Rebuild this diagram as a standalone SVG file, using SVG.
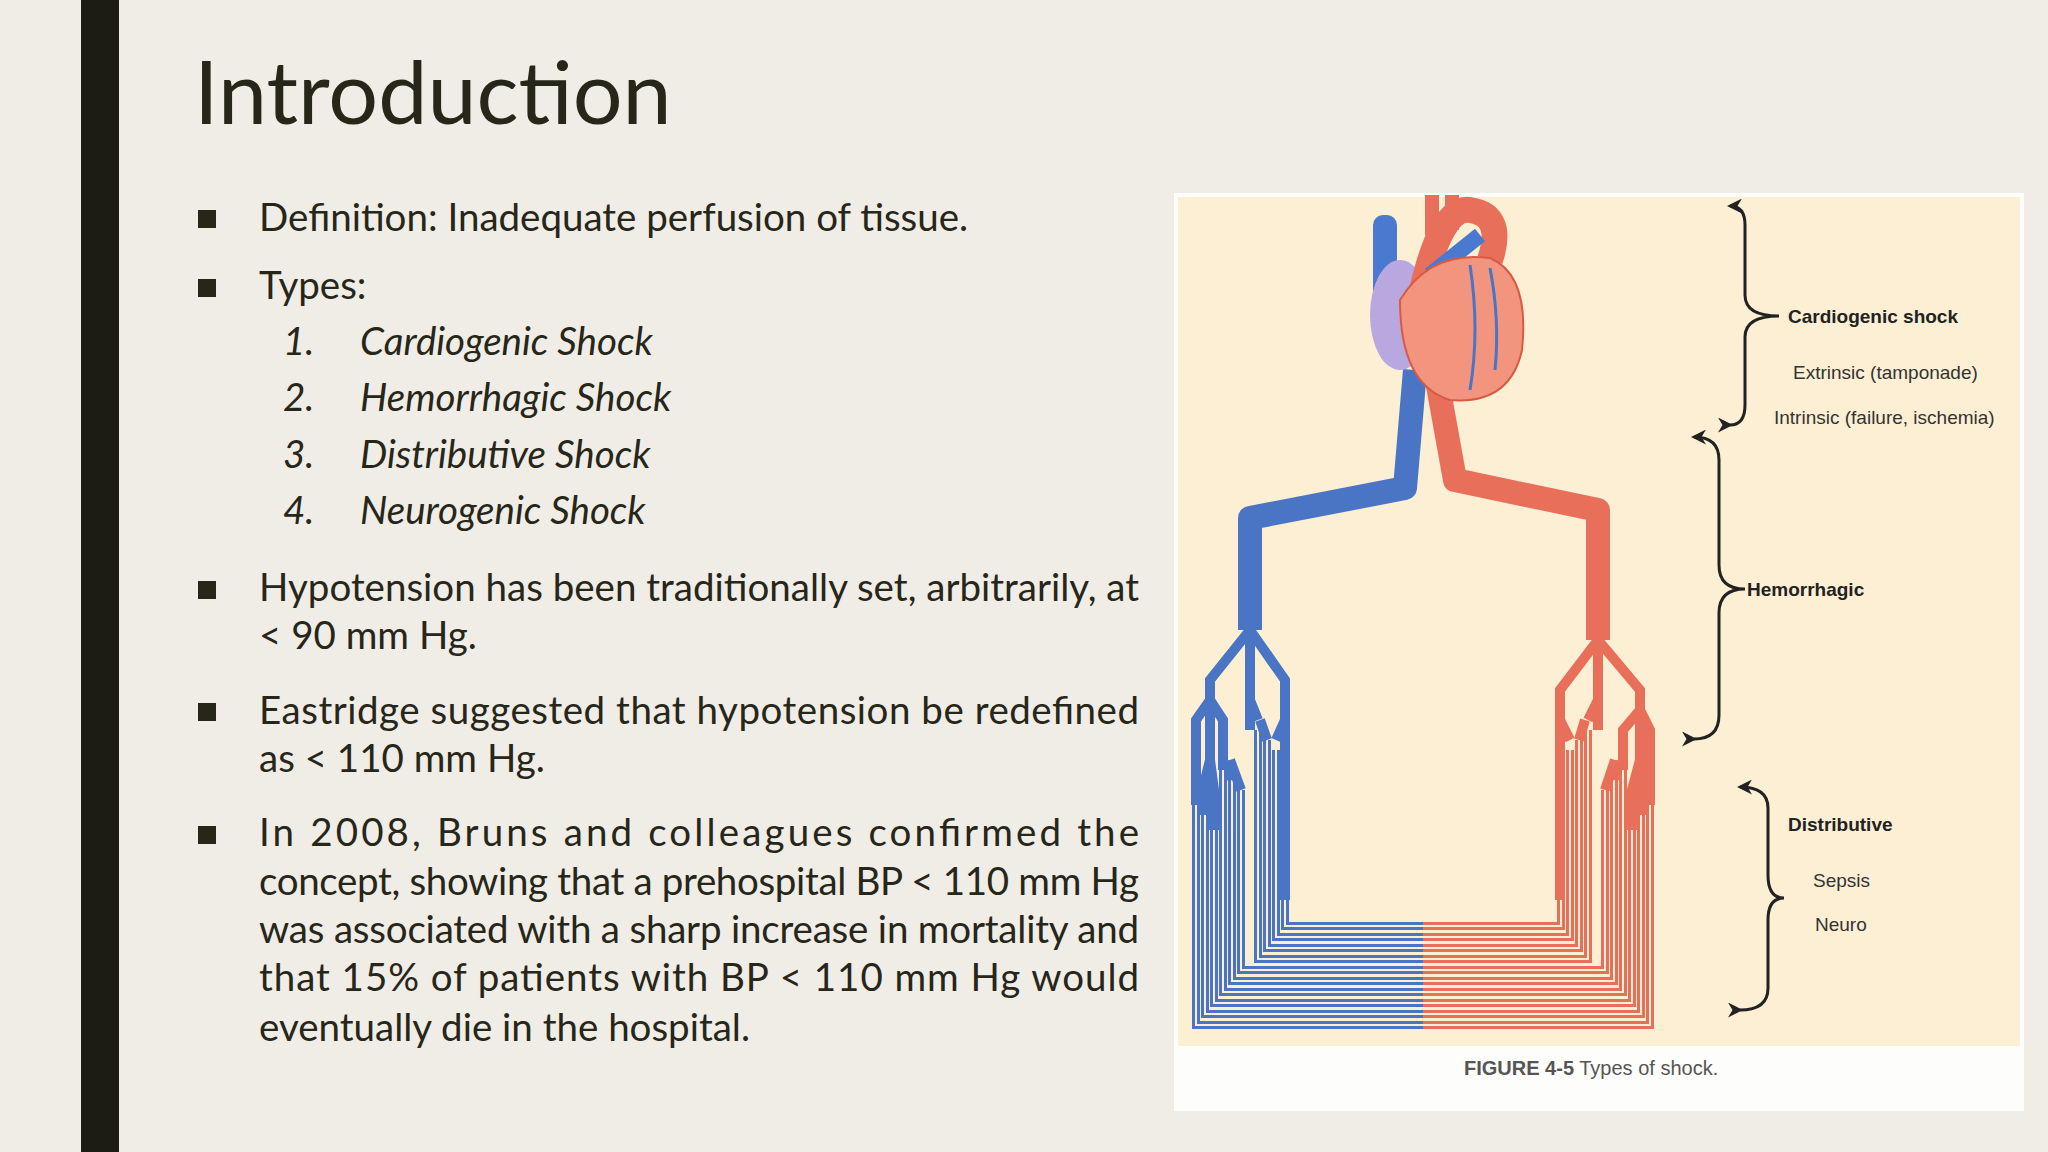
<svg xmlns="http://www.w3.org/2000/svg" width="2048" height="1152" viewBox="0 0 2048 1152">
<style>
.t{font-family:Lato,"Open Sans",sans-serif;fill:#262619;font-size:38.5px}
.i{font-style:italic}
.f{font-family:"Liberation Sans",Arial,sans-serif;fill:#333;font-size:19px}
.b{font-weight:bold;fill:#222}
.br{fill:none;stroke:#222;stroke-width:3}
.bl{fill:none;stroke:#4a74c4;stroke-width:8}
.rd{fill:none;stroke:#e8705a;stroke-width:8}
.in{fill:none;stroke:#fcefd4;stroke-width:2}
</style>
<defs>
<marker id="ah" viewBox="0 0 10 10" refX="2" refY="5" markerWidth="5" markerHeight="5" orient="auto"><path d="M10,0 L0,5 L10,10 L7,5Z" fill="#222"/></marker>
<clipPath id="cl"><rect x="0" y="0" width="1423" height="1152"/></clipPath>
<clipPath id="cr"><rect x="1423" y="0" width="700" height="1152"/></clipPath>
<g id="loops">
<path d="M1196,805 V1025 H1650 V805"/>
<path d="M1205,815 V1014 H1641 V815"/>
<path d="M1214,830 V1003 H1632 V830"/>
<path d="M1223,770 V992 H1623 V770"/>
<path d="M1232,780 V981 H1614 V780"/>
<path d="M1241,790 V970 H1605 V790"/>
<path d="M1258,730 V959 H1588 V730"/>
<path d="M1267,740 V948 H1579 V740"/>
<path d="M1276,750 V937 H1570 V750"/>
<path d="M1285,900 V926 H1561 V900"/>
</g>
</defs>
<rect width="2048" height="1152" fill="#f0ece6"/>
<rect x="81" y="0" width="38" height="1152" fill="#1c1c14"/>
<text x="194" y="124" class="t" style="font-size:88px">Introduction</text>
<g fill="#262619">
<rect x="198" y="210" width="18" height="18"/><rect x="198" y="279" width="18" height="18"/>
<rect x="198" y="581" width="18" height="18"/><rect x="198" y="703" width="18" height="18"/><rect x="198" y="826" width="18" height="18"/>
</g>
<text x="259" y="231" class="t">Definition: Inadequate perfusion of tissue.</text>
<text x="259" y="299" class="t">Types:</text>
<g class="t i"><text x="283" y="355">1.</text><text x="360" y="355">Cardiogenic Shock</text>
<text x="283" y="411">2.</text><text x="360" y="411">Hemorrhagic Shock</text>
<text x="283" y="468">3.</text><text x="360" y="468">Distributive Shock</text>
<text x="283" y="524">4.</text><text x="360" y="524">Neurogenic Shock</text></g>
<text x="259" y="601" class="t" textLength="880">Hypotension has been traditionally set, arbitrarily, at</text>
<text x="259" y="649" class="t">&lt; 90 mm Hg.</text>
<text x="259" y="724" class="t" textLength="880">Eastridge suggested that hypotension be redefined</text>
<text x="259" y="772" class="t">as &lt; 110 mm Hg.</text>
<text x="259" y="846" class="t" textLength="880">In 2008, Bruns and colleagues confirmed the</text>
<text x="259" y="895" class="t" textLength="880">concept, showing that a prehospital BP &lt; 110 mm Hg</text>
<text x="259" y="943" class="t" textLength="880">was associated with a sharp increase in mortality and</text>
<text x="259" y="991" class="t" textLength="880">that 15% of patients with BP &lt; 110 mm Hg would</text>
<text x="259" y="1041" class="t">eventually die in the hospital.</text>
<g id="figure">
<rect x="1174" y="193" width="850" height="918" fill="#fdfdfb"/>
<rect x="1178" y="197" width="842" height="849" fill="#fcefd4"/>
<text x="1464" y="1075" class="f" style="font-size:20px;fill:#555"><tspan font-weight="bold">FIGURE 4-5</tspan> Types of shock.</text>
</g>
<g id="connectors">
<g clip-path="url(#cl)"><use href="#loops" class="bl"/></g>
<g clip-path="url(#cr)"><use href="#loops" class="rd"/></g>
<use href="#loops" class="in"/>
<path d="M1415,370 L1405,488 L1250,518 L1250,630" fill="none" stroke="#4a74c4" stroke-width="24" stroke-linejoin="round"/>
<path d="M1437,380 L1455,480 L1598,510 L1598,640" fill="none" stroke="#e8705a" stroke-width="24" stroke-linejoin="round"/>
<g fill="none" stroke="#4a74c4" stroke-width="10">
<path d="M1250,630 L1210,680 V805 M1250,630 V730 M1250,630 L1285,680 V900"/>
<path d="M1210,700 L1196,720 V805 M1210,700 L1223,720 V770 M1250,700 L1258,720 M1285,720 L1276,740 M1210,760 L1205,780 V815 M1210,760 L1214,790 V830 M1230,760 L1232,780 M1230,760 L1241,790 M1260,720 L1267,740"/>
</g>
<g fill="none" stroke="#e8705a" stroke-width="10">
<path d="M1598,640 L1640,690 V805 M1598,640 V730 M1598,640 L1560,690 V900"/>
<path d="M1640,710 L1650,730 V805 M1640,710 L1623,730 V770 M1598,700 L1588,720 M1560,720 L1570,740 M1640,760 L1641,780 V815 M1640,760 L1632,790 V830 M1615,760 L1614,780 M1615,760 L1605,790 M1585,720 L1579,740"/>
</g>
<path class="br" marker-start="url(#ah)" marker-end="url(#ah)" d="M1730,206 Q1745,206 1745,225 V295 Q1745,316 1779,316 Q1745,316 1745,337 V405 Q1745,425 1730,425"/>
<path class="br" marker-start="url(#ah)" marker-end="url(#ah)" d="M1694,437 Q1719,437 1719,460 V565 Q1719,589 1745,589 Q1719,589 1719,613 V715 Q1719,739 1694,739"/>
<path class="br" marker-start="url(#ah)" marker-end="url(#ah)" d="M1740,787 Q1768,787 1768,808 V875 Q1768,898 1784,898 Q1768,898 1768,920 V988 Q1768,1010 1740,1010"/>
</g>
<g id="heart">
<rect x="1373" y="215" width="24" height="110" rx="10" fill="#4a7ad0"/>
<ellipse cx="1400" cy="315" rx="30" ry="55" fill="#b9a7e0"/>
<path d="M1420,300 Q1440,205 1470,210 Q1505,215 1490,260" fill="none" stroke="#e8705a" stroke-width="26"/>
<rect x="1425" y="195" width="14" height="40" fill="#e8705a"/>
<rect x="1445" y="195" width="14" height="35" fill="#e8705a"/>
<path d="M1430,275 L1480,235" stroke="#4a7ad0" stroke-width="16"/>
<path d="M1400,300 Q1430,250 1490,258 Q1530,275 1522,350 Q1510,405 1450,400 Q1400,385 1400,300Z" fill="#f3957e" stroke="#d85a45" stroke-width="2"/>
<path d="M1470,265 Q1480,330 1470,390 M1490,268 Q1500,320 1495,370" fill="none" stroke="#4a74c4" stroke-width="3"/>
</g>
<g id="labels" class="f">
<text x="1788" y="323" class="b">Cardiogenic shock</text>
<text x="1793" y="379">Extrinsic (tamponade)</text>
<text x="1774" y="424">Intrinsic (failure, ischemia)</text>
<text x="1747" y="596" class="b">Hemorrhagic</text>
<text x="1788" y="831" class="b">Distributive</text>
<text x="1813" y="887">Sepsis</text>
<text x="1815" y="931">Neuro</text>
</g>
</svg>
